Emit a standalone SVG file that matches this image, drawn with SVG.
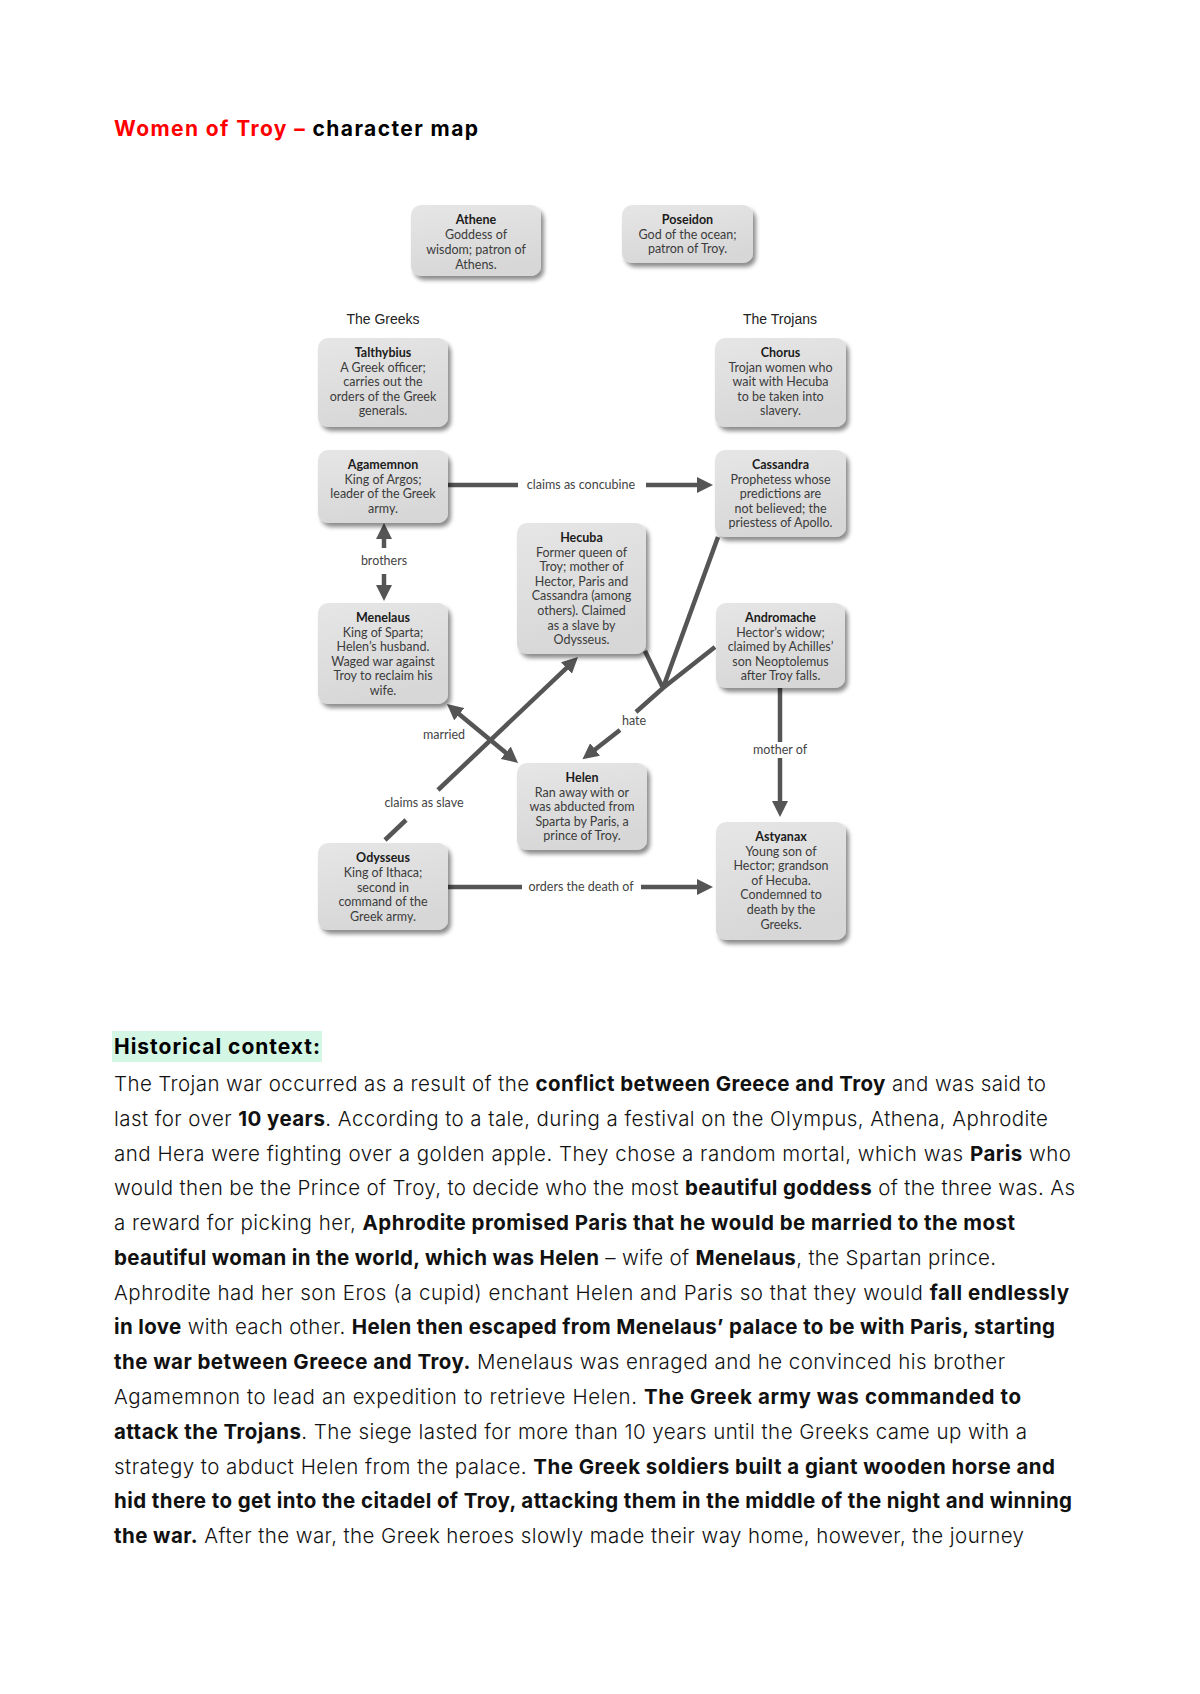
<svg xmlns="http://www.w3.org/2000/svg" width="1200" height="1694" viewBox="0 0 1200 1694">
<style>
.box{fill:url(#bg);filter:url(#sh)}
.nt{font-family:Lato,"Liberation Sans",sans-serif;font-size:12.5px;fill:#3c3c3c;text-anchor:middle}
.nt .t{font-weight:700;fill:#1c1c1c}
.ln{stroke:#555;stroke-width:4.5;fill:none}
.ar{marker-end:url(#ah)}
.lbl{font-family:Lato,"Liberation Sans",sans-serif;font-size:12.5px;fill:#444;text-anchor:middle}
.grp{font-family:"Liberation Sans",Arial,sans-serif;font-size:14px;fill:#222;text-anchor:middle}
.p{font-family:Inter,"Liberation Sans",sans-serif;font-size:20.5px;font-weight:300;fill:#111}
.p .b{font-weight:700}
</style>
<defs>
<linearGradient id="bg" x1="0" y1="0" x2="0.3" y2="1">
<stop offset="0" stop-color="#e6e6e6"/>
<stop offset="1" stop-color="#d7d7d7"/>
</linearGradient>
<filter id="sh" x="-10%" y="-10%" width="130%" height="130%">
<feDropShadow dx="3" dy="4" stdDeviation="2" flood-color="#000" flood-opacity="0.45"/>
</filter>
<marker id="ah" markerUnits="userSpaceOnUse" markerWidth="18" markerHeight="16" refX="4" refY="8" orient="auto-start-reverse">
<path d="M0,0 L16,8 L0,16 z" fill="#555"/>
</marker>
</defs>
<rect width="1200" height="1694" fill="#fff"/>

<text x="114" y="136" font-family="Inter,'Liberation Sans',sans-serif" font-size="21" font-weight="700" textLength="364"><tspan fill="#f00">Women of Troy –</tspan><tspan fill="#000"> character map</tspan></text>

<text class="grp" x="383" y="324">The Greeks</text>
<text class="grp" x="780" y="324">The Trojans</text>

<g id="connectors">
<path class="ln" d="M448,485 L518,485"/>
<path class="ln ar" d="M646,485 L701,485"/>
<text class="lbl" x="581" y="489">claims as concubine</text>
<path class="ln ar" d="M384,548 L384,535"/>
<path class="ln ar" d="M384,574 L384,589"/>
<text class="lbl" x="384" y="565">brothers</text>
<path class="ln ar" d="M456.2,711.7 L508.8,755.3" marker-start="url(#ah)"/>
<text class="lbl" x="444" y="739">married</text>
<path class="ln" d="M385,840 L406,820"/>
<path class="ln ar" d="M438,790 L569.3,665.3"/>
<text class="lbl" x="424" y="807">claims as slave</text>
<path class="ln" d="M645,651 L663,688 M718,537 L663,688 M715,647 L663,688 L636,712"/>
<path class="ln ar" d="M620,730 L591.9,751.9"/>
<text class="lbl" x="634" y="725">hate</text>
<path class="ln" d="M780,688 L780,742"/>
<path class="ln ar" d="M780,758 L780,805"/>
<text class="lbl" x="780" y="754">mother of</text>
<path class="ln" d="M448,887 L522,887"/>
<path class="ln ar" d="M641,887 L701,887"/>
<text class="lbl" x="581" y="891">orders the death of</text>
</g>

<g id="athene"><rect class="box" x="411" y="205" width="130" height="71" rx="10"/>
<text class="nt" x="476"><tspan class="t" x="476" y="224">Athene</tspan><tspan x="476" y="239">Goddess of</tspan><tspan x="476" y="254">wisdom; patron of</tspan><tspan x="476" y="269">Athens.</tspan></text></g>

<g id="poseidon"><rect class="box" x="622" y="205" width="131" height="58" rx="10"/>
<text class="nt"><tspan class="t" x="687.5" y="224">Poseidon</tspan><tspan x="687.5" y="238.5">God of the ocean;</tspan><tspan x="687.5" y="253">patron of Troy.</tspan></text></g>

<g id="talthybius"><rect class="box" x="318" y="338" width="130" height="89" rx="10"/>
<text class="nt"><tspan class="t" x="383" y="357">Talthybius</tspan><tspan x="383" y="371.6">A Greek officer;</tspan><tspan x="383" y="386.2">carries out the</tspan><tspan x="383" y="400.8">orders of the Greek</tspan><tspan x="383" y="415.4">generals.</tspan></text></g>

<g id="chorus"><rect class="box" x="715" y="338" width="131" height="89" rx="10"/>
<text class="nt"><tspan class="t" x="780.5" y="357">Chorus</tspan><tspan x="780.5" y="371.6">Trojan women who</tspan><tspan x="780.5" y="386.2">wait with Hecuba</tspan><tspan x="780.5" y="400.8">to be taken into</tspan><tspan x="780.5" y="415.4">slavery.</tspan></text></g>

<g id="agamemnon"><rect class="box" x="318" y="450" width="130" height="73" rx="10"/>
<text class="nt"><tspan class="t" x="383" y="469">Agamemnon</tspan><tspan x="383" y="483.6">King of Argos;</tspan><tspan x="383" y="498.2">leader of the Greek</tspan><tspan x="383" y="512.8">army.</tspan></text></g>

<g id="cassandra"><rect class="box" x="715" y="450" width="131" height="87" rx="10"/>
<text class="nt"><tspan class="t" x="780.5" y="469">Cassandra</tspan><tspan x="780.5" y="483.6">Prophetess whose</tspan><tspan x="780.5" y="498.2">predictions are</tspan><tspan x="780.5" y="512.8">not believed; the</tspan><tspan x="780.5" y="527.4">priestess of Apollo.</tspan></text></g>

<g id="hecuba"><rect class="box" x="517" y="523" width="129" height="131" rx="10"/>
<text class="nt"><tspan class="t" x="581.5" y="542">Hecuba</tspan><tspan x="581.5" y="556.6">Former queen of</tspan><tspan x="581.5" y="571.2">Troy; mother of</tspan><tspan x="581.5" y="585.8">Hector, Paris and</tspan><tspan x="581.5" y="600.4">Cassandra (among</tspan><tspan x="581.5" y="615">others). Claimed</tspan><tspan x="581.5" y="629.6">as a slave by</tspan><tspan x="581.5" y="644.2">Odysseus.</tspan></text></g>

<g id="menelaus"><rect class="box" x="318" y="603" width="130" height="101" rx="10"/>
<text class="nt"><tspan class="t" x="383" y="622">Menelaus</tspan><tspan x="383" y="636.6">King of Sparta;</tspan><tspan x="383" y="651.2">Helen’s husband.</tspan><tspan x="383" y="665.8">Waged war against</tspan><tspan x="383" y="680.4">Troy to reclaim his</tspan><tspan x="383" y="695">wife.</tspan></text></g>

<g id="andromache"><rect class="box" x="716" y="603" width="129" height="85" rx="10"/>
<text class="nt"><tspan class="t" x="780.5" y="622">Andromache</tspan><tspan x="780.5" y="636.6">Hector’s widow;</tspan><tspan x="780.5" y="651.2">claimed by Achilles’</tspan><tspan x="780.5" y="665.8">son Neoptolemus</tspan><tspan x="780.5" y="680.4">after Troy falls.</tspan></text></g>

<g id="helen"><rect class="box" x="517" y="763" width="130" height="87" rx="10"/>
<text class="nt"><tspan class="t" x="582" y="782">Helen</tspan><tspan x="582" y="796.6">Ran away with or</tspan><tspan x="582" y="811.2">was abducted from</tspan><tspan x="582" y="825.8">Sparta by Paris, a</tspan><tspan x="582" y="840.4">prince of Troy.</tspan></text></g>

<g id="odysseus"><rect class="box" x="318" y="843" width="130" height="87" rx="10"/>
<text class="nt"><tspan class="t" x="383" y="862">Odysseus</tspan><tspan x="383" y="876.8">King of Ithaca;</tspan><tspan x="383" y="891.6">second in</tspan><tspan x="383" y="906.4">command of the</tspan><tspan x="383" y="921.2">Greek army.</tspan></text></g>

<g id="astyanax"><rect class="box" x="716" y="822" width="130" height="118" rx="10"/>
<text class="nt"><tspan class="t" x="781" y="841">Astyanax</tspan><tspan x="781" y="855.6">Young son of</tspan><tspan x="781" y="870.2">Hector; grandson</tspan><tspan x="781" y="884.8">of Hecuba.</tspan><tspan x="781" y="899.4">Condemned to</tspan><tspan x="781" y="914">death by the</tspan><tspan x="781" y="928.6">Greeks.</tspan></text></g>

<rect x="112" y="1031" width="210" height="31" fill="#d4f6e4"/>
<text x="114" y="1054" font-family="Inter,'Liberation Sans',sans-serif" font-size="21" font-weight="700" fill="#000" textLength="206">Historical context:</text>

<text class="p" x="114" y="1091" textLength="932">The Trojan war occurred as a result of the <tspan class="b">conflict between Greece and Troy</tspan> and was said to</text>
<text class="p" x="114" y="1125.8" textLength="934">last for over <tspan class="b">10 years</tspan>. According to a tale, during a festival on the Olympus, Athena, Aphrodite</text>
<text class="p" x="114" y="1160.5" textLength="957">and Hera were fighting over a golden apple. They chose a random mortal, which was <tspan class="b">Paris</tspan> who</text>
<text class="p" x="114" y="1195.3" textLength="961">would then be the Prince of Troy, to decide who the most <tspan class="b">beautiful goddess</tspan> of the three was. As</text>
<text class="p" x="114" y="1230.1" textLength="901">a reward for picking her, <tspan class="b">Aphrodite promised Paris that he would be married to the most</tspan></text>
<text class="p" x="114" y="1264.9" textLength="882"><tspan class="b">beautiful woman in the world, which was Helen</tspan> – wife of <tspan class="b">Menelaus</tspan>, the Spartan prince.</text>
<text class="p" x="114" y="1299.6" textLength="955">Aphrodite had her son Eros (a cupid) enchant Helen and Paris so that they would <tspan class="b">fall endlessly</tspan></text>
<text class="p" x="114" y="1334.4" textLength="941"><tspan class="b">in love</tspan> with each other. <tspan class="b">Helen then escaped from Menelaus’ palace to be with Paris, starting</tspan></text>
<text class="p" x="114" y="1369.2" textLength="891"><tspan class="b">the war between Greece and Troy.</tspan> Menelaus was enraged and he convinced his brother</text>
<text class="p" x="114" y="1403.9" textLength="907">Agamemnon to lead an expedition to retrieve Helen. <tspan class="b">The Greek army was commanded to</tspan></text>
<text class="p" x="114" y="1438.7" textLength="913"><tspan class="b">attack the Trojans</tspan>. The siege lasted for more than 10 years until the Greeks came up with a</text>
<text class="p" x="114" y="1473.5" textLength="941">strategy to abduct Helen from the palace. <tspan class="b">The Greek soldiers built a giant wooden horse and</tspan></text>
<text class="p" x="114" y="1508.2" textLength="958"><tspan class="b">hid there to get into the citadel of Troy, attacking them in the middle of the night and winning</tspan></text>
<text class="p" x="114" y="1543" textLength="910"><tspan class="b">the war.</tspan> After the war, the Greek heroes slowly made their way home, however, the journey</text>
</svg>
